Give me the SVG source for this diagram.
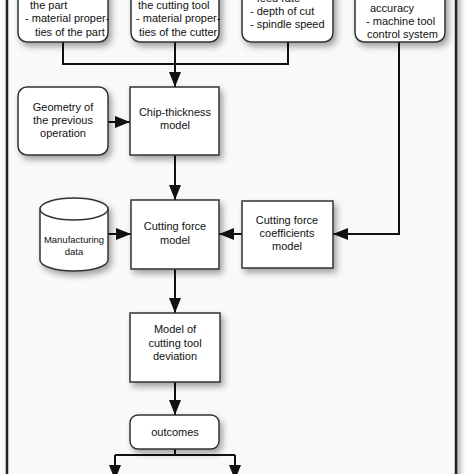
<svg xmlns="http://www.w3.org/2000/svg" width="474" height="474" viewBox="0 0 474 474">
<defs>
<filter id="sh" x="-20%" y="-20%" width="150%" height="150%">
<feDropShadow dx="3" dy="4" stdDeviation="3" flood-color="#000" flood-opacity="0.35"/>
</filter>
<marker id="ah" markerUnits="userSpaceOnUse" markerWidth="16" markerHeight="12" refX="15" refY="6" orient="auto">
<path d="M0,0 L15,6 L0,12 z" fill="#111"/>
</marker>
<style>
.box{fill:#fff;stroke:#333;stroke-width:1.5;filter:url(#sh)}
.t{font-family:"Liberation Sans",Arial,sans-serif;font-size:11px;fill:#111}
.c{text-anchor:middle}
.ln{fill:none;stroke:#111;stroke-width:2}
</style>
</defs>
<rect x="0" y="0" width="474" height="474" fill="#fff"/>
<g id="frame">
<rect x="7" y="-10" width="449" height="500" fill="#f9f9f9" stroke="#222" stroke-width="2.5" filter="url(#sh)"/>
</g>
<g id="connectors">
<path class="ln" d="M63,42 V64 H288 V42"/>
<path class="ln" d="M175,42 V87" marker-end="url(#ah)"/>
<path class="ln" d="M399,42 V234 H333" marker-end="url(#ah)"/>
<path class="ln" d="M108,122 H130" marker-end="url(#ah)"/>
<path class="ln" d="M175,155 V200" marker-end="url(#ah)"/>
<path class="ln" d="M108,234 H131" marker-end="url(#ah)"/>
<path class="ln" d="M242,234 H219" marker-end="url(#ah)"/>
<path class="ln" d="M175,269 V313" marker-end="url(#ah)"/>
<path class="ln" d="M175,382 V415" marker-end="url(#ah)"/>
<path class="ln" d="M175,449 V455"/>
<path class="ln" d="M115,455 H235"/>
<path class="ln" d="M115,455 V480" marker-end="url(#ah)"/>
<path class="ln" d="M235,455 V480" marker-end="url(#ah)"/>
</g>
<g id="part">
<rect class="box" x="18" y="-30" width="90" height="72" rx="9"/>
<text class="t" x="30" y="9">the part</text>
<text class="t" x="25" y="22">- material proper-</text>
<text class="t" x="35" y="36">ties of the part</text>
</g>
<g id="tool">
<rect class="box" x="131" y="-30" width="88" height="72" rx="9"/>
<text class="t" x="138" y="9">the cutting tool</text>
<text class="t" x="136" y="22">- material proper-</text>
<text class="t" x="139" y="36">ties of the cutter</text>
</g>
<g id="cutting">
<rect class="box" x="242" y="-30" width="91" height="72" rx="9"/>
<text class="t" x="250" y="2">- feed rate</text>
<text class="t" x="250" y="15">- depth of cut</text>
<text class="t" x="250" y="28">- spindle speed</text>
</g>
<g id="machine">
<rect class="box" x="355" y="-30" width="90" height="72" rx="9"/>
<text class="t" x="370" y="12">accuracy</text>
<text class="t" x="366" y="25">- machine tool</text>
<text class="t" x="367" y="38">control system</text>
</g>
<g id="geometry">
<rect class="box" x="18" y="87" width="90" height="68" rx="9"/>
<text class="t c" x="63" y="111">Geometry of</text>
<text class="t c" x="63" y="124">the previous</text>
<text class="t c" x="63" y="137">operation</text>
</g>
<g id="chip">
<rect class="box" x="130" y="87" width="89" height="68"/>
<text class="t c" x="175" y="116">Chip-thickness</text>
<text class="t c" x="175" y="129">model</text>
</g>
<g id="mfg">
<path class="box" d="M40,209 V260 A34,11 0 0 0 108,260 V209 A34,11 0 0 0 40,209 Z"/>
<path d="M40,209 A34,11 0 0 0 108,209" fill="none" stroke="#333" stroke-width="1.5"/>
<text class="t c" x="74" y="243" style="font-size:9.5px">Manufacturing</text>
<text class="t c" x="74" y="255" style="font-size:9.5px">data</text>
</g>
<g id="force">
<rect class="box" x="131" y="200" width="88" height="69"/>
<text class="t c" x="175" y="230">Cutting force</text>
<text class="t c" x="175" y="244">model</text>
</g>
<g id="coef">
<rect class="box" x="242" y="201" width="91" height="67"/>
<text class="t c" x="287" y="224">Cutting force</text>
<text class="t c" x="287" y="237">coefficients</text>
<text class="t c" x="287" y="250">model</text>
</g>
<g id="deviation">
<rect class="box" x="130" y="313" width="90" height="69"/>
<text class="t c" x="175" y="333">Model of</text>
<text class="t c" x="175" y="347">cutting tool</text>
<text class="t c" x="175" y="360">deviation</text>
</g>
<g id="outcomes">
<rect class="box" x="130" y="415" width="89" height="34" rx="8"/>
<text class="t c" x="175" y="436">outcomes</text>
</g>
</svg>
